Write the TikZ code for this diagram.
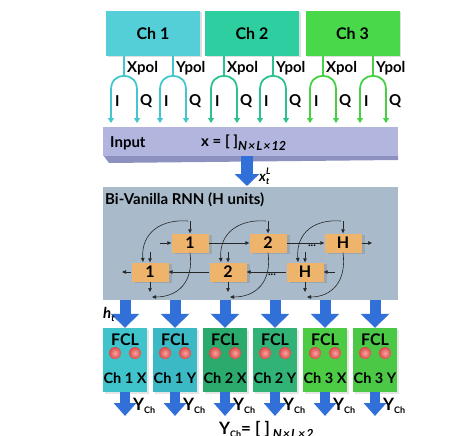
\documentclass[tikz,border=0pt]{standalone}
\usepackage{fontspec}
\setmainfont{Lato}
\usetikzlibrary{arrows.meta,shadows,calc}
\definecolor{cA}{HTML}{55CFD7}
\definecolor{cB}{HTML}{2DCFA0}
\definecolor{cC}{HTML}{48D84A}
\definecolor{lA}{HTML}{45C6CE}
\definecolor{lB}{HTML}{2CC092}
\definecolor{lC}{HTML}{46D046}
\definecolor{fA}{HTML}{40C4CC}
\definecolor{fA2}{HTML}{3BB9C4}
\definecolor{fB}{HTML}{2AAA6C}
\definecolor{fB2}{HTML}{31B276}
\definecolor{fC}{HTML}{4CCC44}
\definecolor{fC2}{HTML}{4AC846}
\definecolor{inpC}{HTML}{B2B6DE}
\definecolor{inpD}{HTML}{8D91C0}
\definecolor{rnnC}{HTML}{A9BBCB}
\definecolor{orC}{HTML}{EFB46B}
\definecolor{blueA}{HTML}{3070D8}
\definecolor{ballIn}{HTML}{F7A5A0}
\definecolor{ballOut}{HTML}{D94A48}
\newcommand{\subsup}[3]{#1\rlap{\raisebox{7pt}{\fontsize{9}{9}\selectfont #2}}\raisebox{-3pt}{\fontsize{9}{9}\selectfont #3}}
\begin{document}
\begin{tikzpicture}[x=1pt,y=-1pt,
  every node/.style={font=\bfseries},
  chbox/.style={minimum width=94pt, minimum height=45pt, inner sep=0pt,
    font=\fontsize{16}{18}\selectfont\bfseries,
    drop shadow={opacity=0.25, shadow xshift=1.5pt, shadow yshift=-1.5pt}},
  polline/.style={line width=1.8pt},
  polarrow/.style={line width=1.8pt, -{Triangle[width=6pt,length=5pt]}},
  lbl/.style={font=\fontsize{15}{17}\selectfont\bfseries, inner sep=0pt},
  rnode/.style={fill=orC, minimum width=37pt, minimum height=19pt, inner sep=0pt,
    font=\fontsize{16}{16}\selectfont\bfseries,
    drop shadow={opacity=0.35, shadow xshift=3pt, shadow yshift=-1pt}},
  thinarrow/.style={line width=0.6pt, draw=black!85, -{Triangle[width=3.5pt,length=4pt]}},
  bigarrow/.style={draw=blueA, line width=11pt, -{Triangle[width=28pt,length=14pt]}},
  midarrow/.style={draw=blueA, line width=10pt, -{Triangle[width=22pt,length=13pt]}},
  fclbox/.style={minimum width=44pt, minimum height=64pt, inner sep=0pt,
    drop shadow={opacity=0.2, shadow xshift=1.5pt, shadow yshift=-1.5pt}},
  ]
\useasboundingbox (0,0) rectangle (474,436);
\clip (0,0) rectangle (474,436);

% top channel boxes
\node[chbox, fill=cA] (ch1) at (153,33.5) {Ch 1};
\node[chbox, fill=cB] (ch2) at (252,33.5) {Ch 2};
\node[chbox, fill=cC] (ch3) at (352.5,33.5) {Ch 3};

% polarisation stems and I/Q arrows
\foreach \sx/\col/\chn/\pl in {124/lA/ch1/Xpol,173/lA/ch1/Ypol,224/lB/ch2/Xpol,273/lB/ch2/Ypol,323/lC/ch3/Xpol,373/lC/ch3/Ypol}{
  \coordinate (s\sx) at (\sx,76);
  \draw[polline, \col] (\chn.south -| s\sx) -- (s\sx);
  \draw[polarrow, \col] (s\sx) .. controls ({\sx-8},76) and ({\sx-13},81) .. ({\sx-13},90) -- ({\sx-13},123);
  \draw[polarrow, \col] (s\sx) .. controls ({\sx+8},76) and ({\sx+13},81) .. ({\sx+13},90) -- ({\sx+13},123);
  \node[lbl, anchor=west] at ({\sx+3},68) {\pl};
  \node[lbl, anchor=west] at ({\sx-9},101) {I};
  \node[lbl, anchor=west] at ({\sx+16},101) {Q};
}

% input slab
\fill[inpD] (103,155) -- (398,155) -- (398,160) -- (109,163) -- cycle;
\node[fill=inpC, minimum width=295pt, minimum height=29pt, inner sep=0pt, anchor=north west] (inp) at (103,127) {};
\node[lbl, anchor=west] at (110,143) {Input};
\node[lbl, anchor=west] at (201,143) {x = [ ]\raisebox{-4pt}{\itshape\fontsize{12.5}{12.5}\selectfont N\kern1pt×\kern1pt L\kern1pt×\kern1pt12}};

% RNN panel
\node[fill=rnnC, minimum width=295pt, minimum height=113pt, inner sep=0pt, anchor=north west] (rnn) at (103,187) {};
\node[font=\fontsize{15}{17}\selectfont\bfseries, anchor=west, inner sep=0pt] at (105,200) {Bi-Vanilla RNN (H units)};

\coordinate (inarrow) at (247,186);
\draw[bigarrow, line width=12pt, -{Triangle[width=24pt,length=12pt]}] (inp.south -| inarrow) -- (inarrow);
\node[anchor=west, inner sep=0pt, font=\fontsize{14}{14}\selectfont\bfseries\itshape] at (259,176) {\subsup{x}{L}{t}};

% RNN cells
\node[rnode] (t1) at (190,243) {1};
\node[rnode] (t2) at (268,243) {2};
\node[rnode] (tH) at (343,243) {H};
\node[rnode] (b1) at (150,272) {1};
\node[rnode] (b2) at (228,272) {2};
\node[rnode] (bH) at (305,272) {H};

\coordinate (tin) at (160,243);
\coordinate (tout) at (372,243);
\coordinate (bin) at (335,272);
\coordinate (bout) at (122,272);
\draw[thinarrow] (tin) -- (t1.west);
\draw[thinarrow] (t1.east) -- (t2.west);
\draw[thinarrow] (t2.east) -- (tH.west);
\draw[thinarrow] (tH.east) -- (tout);
\draw[thinarrow] (bin) -- (bH.east);
\draw[thinarrow] (bH.west) -- (b2.east);
\draw[thinarrow] (b2.west) -- (b1.east);
\draw[thinarrow] (b1.west) -- (bout);
\node[font=\fontsize{11}{11}\selectfont\bfseries, inner sep=0pt] at (312,246) {...};
\node[font=\fontsize{11}{11}\selectfont\bfseries, inner sep=0pt] at (272,275) {...};

\foreach \i/\tx/\bx in {1/190/150,2/268/228,H/343/305}{
  \coordinate (ti\i) at (\tx,221);
  \coordinate (bi\i) at (\bx,252);
  \coordinate (bo\i) at (\bx,292);
  \coordinate (ca\i) at ({\tx-2},221);
  \coordinate (cb\i) at ({\bx-7},262);
  \coordinate (cc\i) at ({\bx+2},297);
  \draw[thinarrow] (ti\i) -- (t\i.north);
  \draw[thinarrow] (bi\i) -- (b\i.north);
  \draw[thinarrow] (b\i.south) -- (bo\i);
  \draw[thinarrow] (ca\i) .. controls ({\tx-28},219) and ({\bx-9},232) .. (cb\i);
  \draw[thinarrow] (t\i.south) .. controls ({\tx+4},282) and ({\tx-12},297) .. (cc\i);
}

% FCL boxes
\foreach \k/\cx/\col/\txt in {1/125/fA/Ch 1 X,2/175/fA2/Ch 1 Y,3/225/fB/Ch 2 X,4/275/fB2/Ch 2 Y,5/325/fC/Ch 3 X,6/375/fC2/Ch 3 Y}{
  \node[fclbox, fill=\col] (f\k) at (\cx,360) {};
  \node[font=\fontsize{16}{16}\selectfont\bfseries, inner sep=0pt] at (\cx,340) {FCL};
  \shade[inner color=ballIn, outer color=ballOut] ({\cx-10},353) circle (6pt);
  \shade[inner color=ballIn, outer color=ballOut] ({\cx+10},353) circle (6pt);
  \node[font=\fontsize{14.5}{15}\selectfont\bfseries, inner sep=0pt] at (\cx,378) {\txt};
  \draw[bigarrow] (rnn.south -| f\k) -- (f\k.north);
  \coordinate (yo\k) at (\cx,416);
  \draw[midarrow] (f\k.south) -- (yo\k);
  \node[anchor=west, inner sep=0pt, font=\fontsize{17}{17}\selectfont\bfseries] at ({\cx+8},406) {Y\raisebox{-3pt}{\fontsize{9}{9}\selectfont Ch}};
}

\node[anchor=west, inner sep=0pt, font=\fontsize{15}{15}\selectfont\bfseries\itshape] at (103,314) {h\raisebox{-3pt}{\fontsize{9}{9}\selectfont t}};

\node[anchor=base west, inner sep=0pt, font=\fontsize{17}{17}\selectfont\bfseries] at (219,434) {Y\raisebox{-3pt}{\fontsize{9}{9}\selectfont Ch}= [ ]\,\raisebox{-4pt}{\itshape\fontsize{12.5}{12.5}\selectfont N\kern1pt×\kern1pt L\kern1pt×\kern1pt2}};
\end{tikzpicture}
\end{document}
